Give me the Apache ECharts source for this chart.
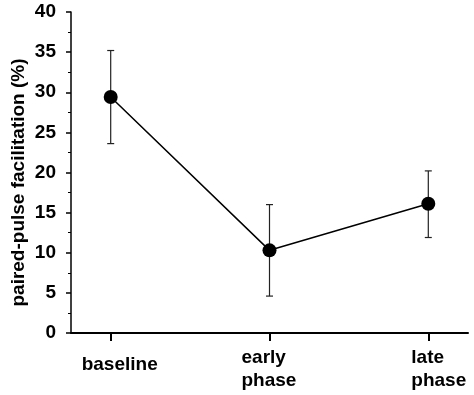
<!DOCTYPE html>
<html><head><meta charset="utf-8">
<script src="https://cdn.jsdelivr.net/npm/echarts@6/dist/echarts.min.js"></script>
<style>html,body{margin:0;padding:0;background:#fff}#c{width:474px;height:395px}</style>
</head><body><div id="c"></div>
<script>
var categories = ['baseline', 'early\nphase', 'late\nphase'];
var positions = [1, 2, 3];
var means = [29.4, 10.3, 16.1];
var errLow = [23.6, 4.6, 11.9];
var errHigh = [35.2, 16.0, 20.2];
var yTicks = [0, 5, 10, 15, 20, 25, 30, 35, 40];

var chart = echarts.init(document.getElementById('c'), null, {renderer: 'canvas'});
var font = 'Liberation Sans, Arial, sans-serif';
var lineData = positions.map(function (p, i) { return [p, means[i]]; });
var errData = positions.map(function (p, i) { return [p, errLow[i], errHigh[i]]; });
var richStyles = ['b', 'e', 'l'];
var base = {fontFamily: font, fontSize: 19, fontWeight: 'bold', color: '#000'};

chart.setOption({
  animation: false,
  grid: {left: 71, right: 6, top: 12, bottom: 62, containLabel: false, outerBoundsMode: 'none'},
  xAxis: {
    type: 'value', min: 0.75, max: 3.25,
    axisLine: {show: true, lineStyle: {color: '#000', width: 2}},
    axisTick: {show: true, customValues: positions, length: 8, lineStyle: {color: '#000', width: 2}},
    axisLabel: {
      customValues: positions, margin: 13, hideOverlap: false,
      color: '#000', fontFamily: font, fontSize: 19, fontWeight: 'bold', lineHeight: 23,
      formatter: function (v) {
        var i = positions.indexOf(v);
        if (i < 0) return '';
        var k = richStyles[i];
        return categories[i].split('\n').map(function (s) { return '{' + k + '|' + s + '}'; }).join('\n');
      },
      rich: {
        b: Object.assign({}, base, {padding: [14, 0, 0, 18]}),
        e: Object.assign({}, base, {width: 56, align: 'left', lineHeight: 23}),
        l: Object.assign({}, base, {width: 56, align: 'left', lineHeight: 23, padding: [0, 0, 0, 22]})
      }
    },
    splitLine: {show: false}
  },
  yAxis: {
    type: 'value', min: 0, max: 40, interval: 5,
    name: 'paired-pulse facilitation (%)',
    nameLocation: 'middle', nameGap: 43, nameMoveOverlap: false,
    nameTextStyle: {color: '#000', fontFamily: font, fontSize: 19, fontWeight: 'bold', padding: [0, 20, 0, 0]},
    axisLine: {show: true, lineStyle: {color: '#000', width: 1.5}},
    axisTick: {show: true, length: 5, lineStyle: {color: '#000', width: 1.5}},
    minorTick: {show: true, splitNumber: 2, length: 3, lineStyle: {color: '#000', width: 1}},
    axisLabel: {
      margin: 15, color: '#000', fontFamily: font, fontSize: 19, fontWeight: 'bold',
      formatter: function (v) { return yTicks.indexOf(v) >= 0 ? String(v) : ''; }
    },
    splitLine: {show: false}
  },
  series: [
    {
      type: 'custom',
      data: errData,
      renderItem: function (params, api) {
        var x = api.value(0);
        var lo = api.coord([x, api.value(1)]);
        var hi = api.coord([x, api.value(2)]);
        var cap = 3.5;
        var st = {stroke: '#222', lineWidth: 1.2};
        return {type: 'group', children: [
          {type: 'line', shape: {x1: lo[0], y1: lo[1], x2: hi[0], y2: hi[1]}, style: st},
          {type: 'line', shape: {x1: lo[0] - cap, y1: lo[1], x2: lo[0] + cap, y2: lo[1]}, style: st},
          {type: 'line', shape: {x1: hi[0] - cap, y1: hi[1], x2: hi[0] + cap, y2: hi[1]}, style: st}
        ]};
      },
      z: 1
    },
    {
      type: 'line',
      data: lineData,
      symbol: 'circle', symbolSize: 14,
      itemStyle: {color: '#000'},
      lineStyle: {color: '#000', width: 1.5},
      z: 2
    }
  ]
});
</script></body></html>
